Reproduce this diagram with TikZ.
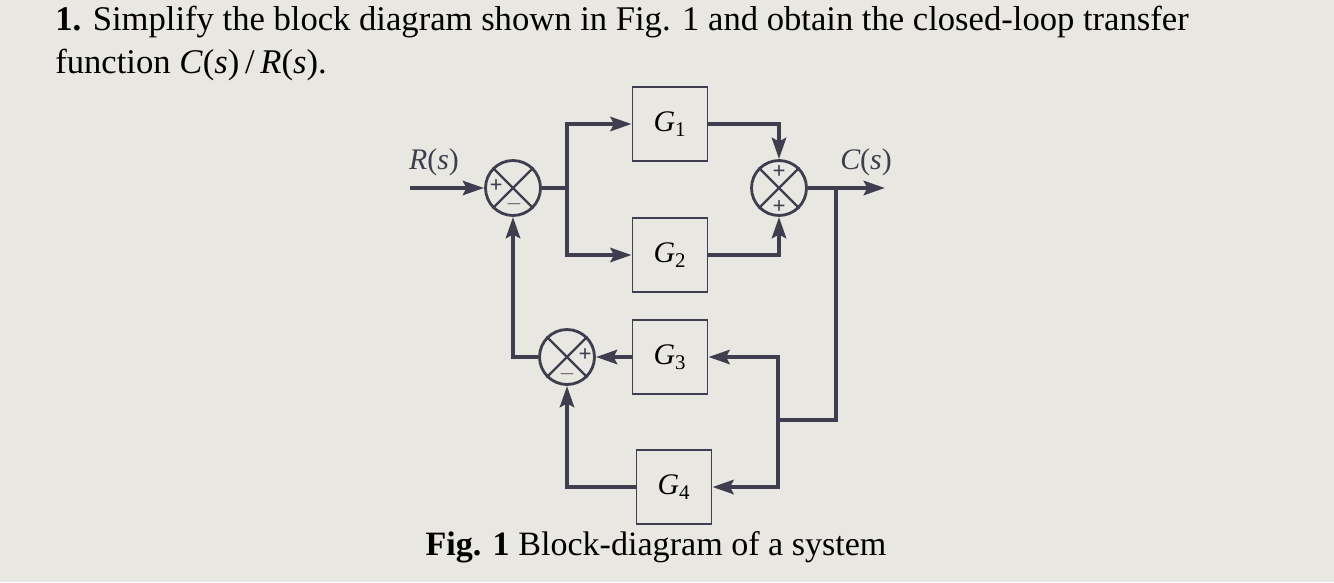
\documentclass[tikz,border=0pt]{standalone}
\usepackage{fontspec}
\setmainfont{Liberation Serif}
\usetikzlibrary{arrows.meta}
\definecolor{bg}{HTML}{E9E7E2}
\definecolor{ln}{HTML}{3E3E4E}
\begin{document}
\begin{tikzpicture}[x=0.02cm,y=-0.02cm,
  wire/.style={draw=ln,line width=2.8pt},
  arr/.style={wire,-{Stealth[length=12pt,width=8pt,inset=2pt]}},
  blk/.style={draw=ln,line width=1pt,minimum width=1.5cm,minimum height=1.48cm,font=\fontsize{17}{17}\selectfont\itshape},
  sum/.style={draw=ln,line width=1.6pt,circle,minimum size=1.1cm,inner sep=0pt},
  sg/.style={font=\fontsize{13}{13}\selectfont\bfseries,text=ln},
  lbl/.style={font=\fontsize{17}{17}\selectfont,text=ln}]
\fill[bg] (0,0) rectangle (1334,582);
\useasboundingbox (0,0) rectangle (1334,582);
\node[anchor=west,inner sep=0pt,font=\fontsize{19.7}{22}\selectfont] (t1) at (55,22) {\textbf{1.} Simplify the block diagram shown in Fig. 1 and obtain the closed-loop transfer};
\node[anchor=west,inner sep=0pt,font=\fontsize{19.7}{22}\selectfont] (t2) at (55,65) {function \textit{C}(\textit{s})\,/\,\textit{R}(\textit{s}).};
% blocks
\node[blk] (g1) at (670,124) {G\textsubscript{\upshape 1}};
\node[blk] (g2) at (670,255) {G\textsubscript{\upshape 2}};
\node[blk] (g3) at (670,357) {G\textsubscript{\upshape 3}};
\node[blk] (g4) at (674,487) {G\textsubscript{\upshape 4}};
% sums
\node[sum] (s1) at (513,188) {};
\node[sum] (s2) at (779,188) {};
\node[sum] (s3) at (567,357) {};
\foreach \s in {s1,s2,s3}{
  \draw[ln,line width=1.3pt] (\s.north west)--(\s.south east) (\s.north east)--(\s.south west);}
\node[sg] at (496,186) {+}; \node[sg] at (514,204) {$-$};
\node[sg] at (779,172) {+}; \node[sg] at (779,207) {+};
\node[sg] at (585,355) {+}; \node[sg] at (567,374) {$-$};
% coordinates
\coordinate (rin) at (410,188);
\coordinate (br) at (567,188);
\coordinate (cout) at (885,188);
\coordinate (bo) at (836,188);
\coordinate (fb1) at (836,420);
\coordinate (fb2) at (778,420);
% labels
\node[lbl] (R) at (434,162) {\itshape R\upshape(\itshape s\upshape)};
\node[lbl] (C) at (866,162) {\itshape C\upshape(\itshape s\upshape)};
% wires
\draw[arr] (rin) -- (s1);
\draw[wire] (s1) -- (br);
\draw[arr] (br) |- (g1);
\draw[arr] (br) |- (g2);
\draw[arr] (g1.east) -| (s2.north);
\draw[arr] (g2.east) -| (s2.south);
\draw[arr] (s2) -- (cout);
\draw[wire] (bo) -- (fb1) -- (fb2);
\draw[arr] (fb2) |- (g3.east);
\draw[arr] (fb2) |- (g4.east);
\draw[arr] (g3) -- (s3);
\draw[arr] (g4.west) -| (s3.south);
\draw[arr] (s3.west) -| (s1.south);
\node[font=\fontsize{19.4}{22}\selectfont] (cap) at (656,547) {\textbf{Fig. 1} Block-diagram of a system};
\end{tikzpicture}
\end{document}
